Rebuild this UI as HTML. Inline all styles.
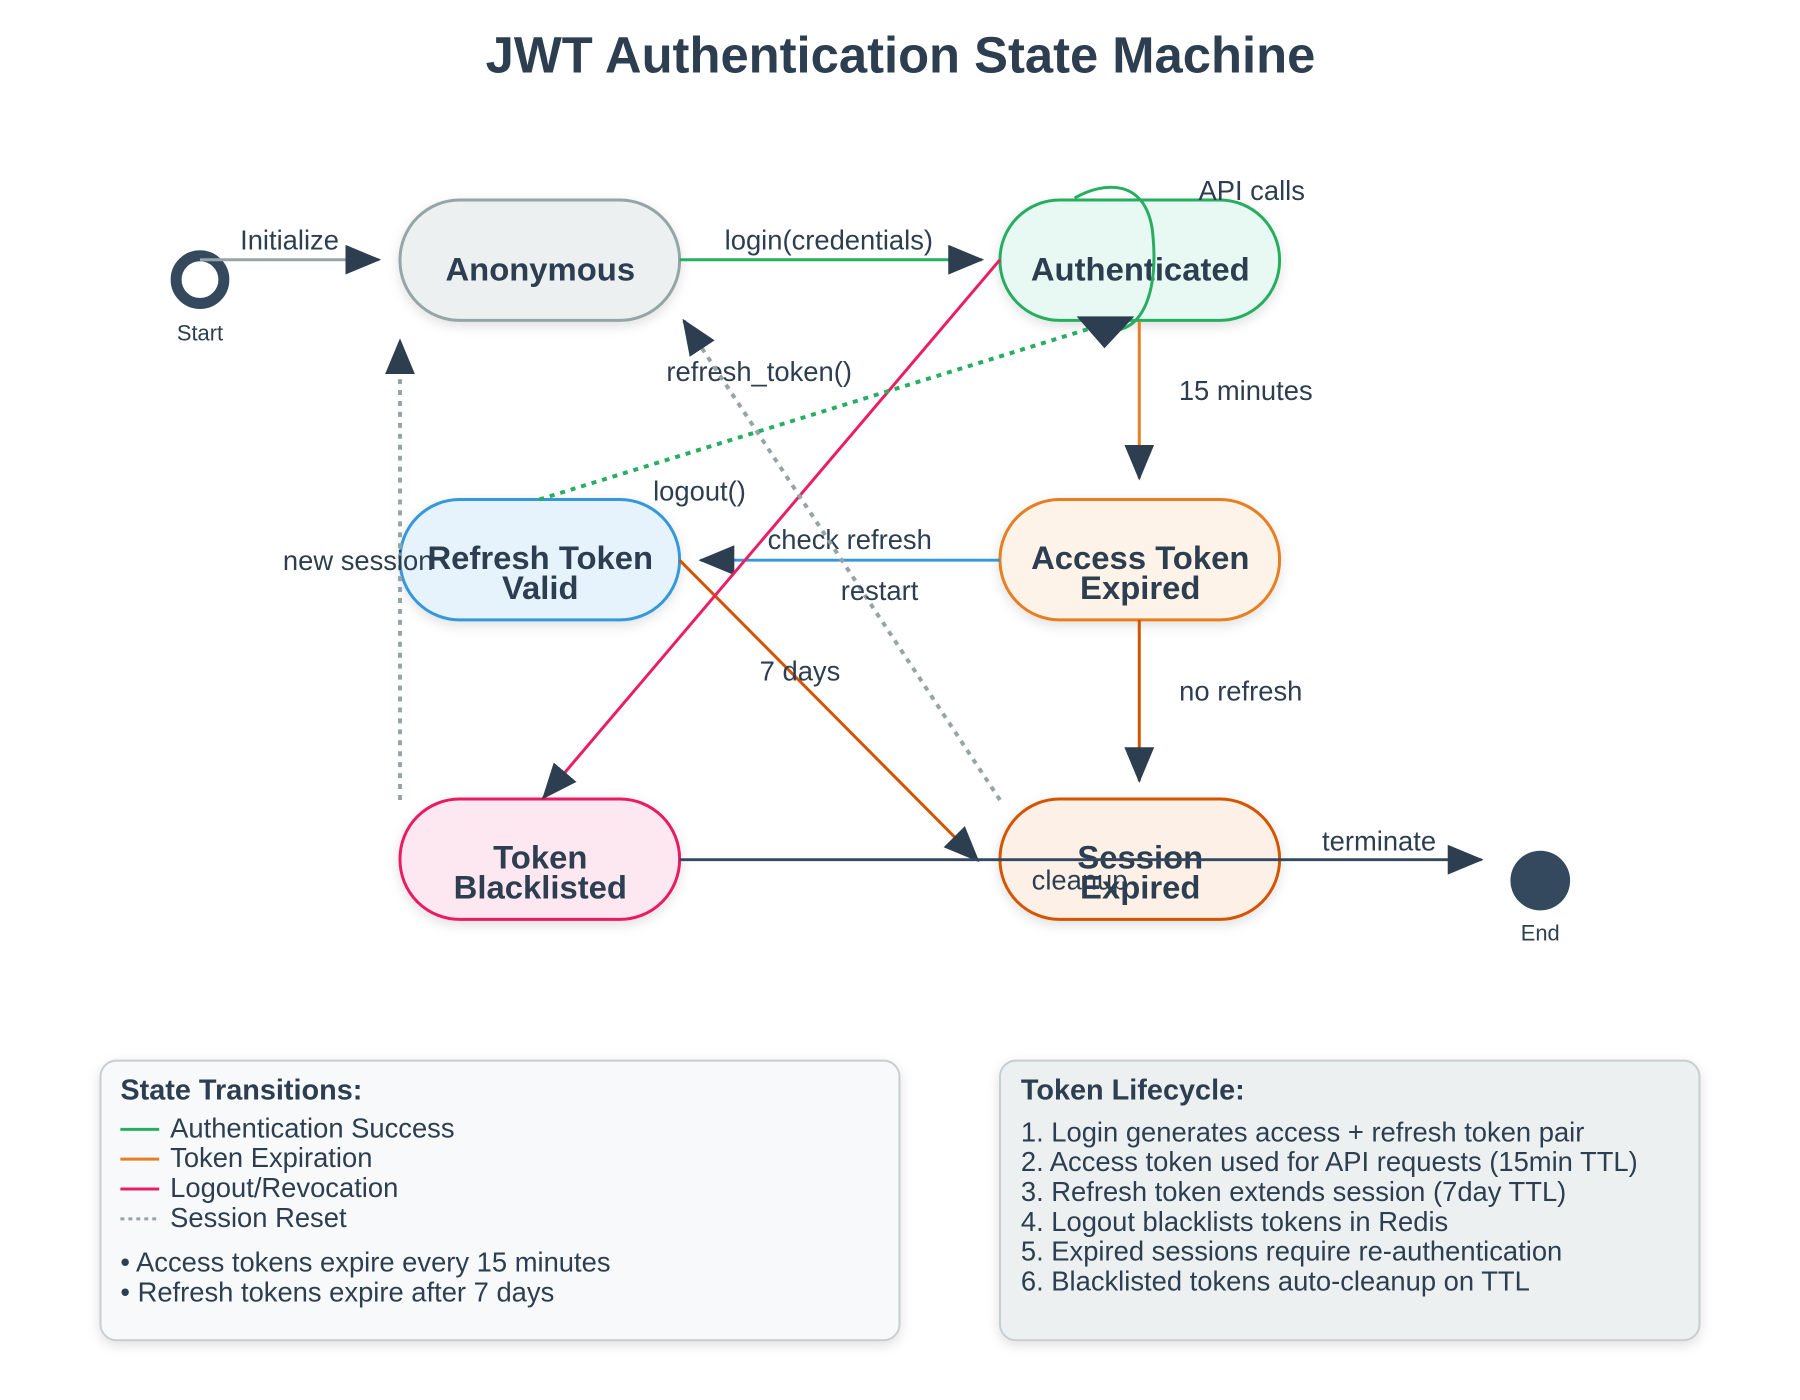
<!DOCTYPE html>
<html><head><meta charset="utf-8"><style>
html,body{margin:0;padding:0;background:#fff;}
svg{display:block;font-family:"Liberation Sans",sans-serif;}
.n{font-weight:bold;font-size:33px;fill:#2c3e50;text-anchor:middle;}
.l{font-size:27.5px;fill:#2c3e50;text-anchor:middle;}
.t{font-size:27.5px;fill:#2c3e50;}
.h{font-size:29px;font-weight:bold;fill:#2c3e50;}
</style></head><body>
<svg width="1800" height="1400" viewBox="0 0 1800 1400">
<defs>
<marker id="a" markerWidth="36" markerHeight="30" refX="34" refY="15" orient="auto" markerUnits="userSpaceOnUse">
<path d="M0,0 L36,15 L0,30 Z" fill="#2c3e50"/></marker>
<filter id="s" x="-20%" y="-20%" width="140%" height="150%"><feDropShadow dx="0" dy="4" stdDeviation="6" flood-opacity="0.12"/></filter>
</defs>
<g transform="scale(0.995)">
<text x="905" y="73" style="font-size:51px;font-weight:bold;fill:#2c3e50;text-anchor:middle">JWT Authentication State Machine</text>

<rect x="402" y="201" width="281" height="121" rx="60" fill="#ecf0f1" stroke="#95a5a6" stroke-width="3" filter="url(#s)"/>
<rect x="1005" y="201" width="281" height="121" rx="60" fill="#e8f8f3" stroke="#27ae60" stroke-width="3" filter="url(#s)"/>
<rect x="402" y="502" width="281" height="121" rx="60" fill="#e6f3fc" stroke="#3498db" stroke-width="3" filter="url(#s)"/>
<rect x="1005" y="502" width="281" height="121" rx="60" fill="#fef3e8" stroke="#e67e22" stroke-width="3" filter="url(#s)"/>
<rect x="402" y="803" width="281" height="121" rx="60" fill="#fde8f1" stroke="#e91e63" stroke-width="3" filter="url(#s)"/>
<rect x="1005" y="803" width="281" height="121" rx="60" fill="#fdf0e6" stroke="#d35400" stroke-width="3" filter="url(#s)"/>

<text class="n" x="543" y="282">Anonymous</text>
<text class="n" x="1146" y="282">Authenticated</text>
<text class="n" x="543" y="572">Refresh Token</text>
<text class="n" x="543" y="602">Valid</text>
<text class="n" x="1146" y="572">Access Token</text>
<text class="n" x="1146" y="602">Expired</text>
<text class="n" x="543" y="873">Token</text>
<text class="n" x="543" y="903">Blacklisted</text>
<text class="n" x="1146" y="873">Session</text>
<text class="n" x="1146" y="903">Expired</text>

<circle cx="201" cy="281" r="24" fill="none" stroke="#34495e" stroke-width="11"/>
<text x="201" y="342" style="font-size:22px;fill:#2c3e50;text-anchor:middle">Start</text>
<circle cx="1548" cy="885" r="30" fill="#34495e"/>
<text x="1548" y="945" style="font-size:22px;fill:#2c3e50;text-anchor:middle">End</text>

<line x1="201" y1="261" x2="381" y2="261" stroke="#95a5a6" stroke-width="3" marker-end="url(#a)"/>
<text class="l" x="291" y="251">Initialize</text>
<line x1="683" y1="261" x2="987" y2="261" stroke="#27ae60" stroke-width="3" marker-end="url(#a)"/>
<text class="l" x="833" y="251">login(credentials)</text>
<path d="M1080,199 C1110,182 1150,180 1158,230 C1165,290 1150,330 1120,332" fill="none" stroke="#27ae60" stroke-width="3"/>
<text class="l" x="1258" y="201">API calls</text>
<line x1="1145" y1="323" x2="1145" y2="481" stroke="#e67e22" stroke-width="3" marker-end="url(#a)"/>
<text class="l" x="1252" y="402">15 minutes</text>
<line x1="1005" y1="563" x2="704" y2="563" stroke="#3498db" stroke-width="3" marker-end="url(#a)"/>
<text class="l" x="854" y="552">check refresh</text>
<line x1="1145" y1="623" x2="1145" y2="785" stroke="#d35400" stroke-width="3" marker-end="url(#a)"/>
<text class="l" x="1247" y="704">no refresh</text>
<line x1="683" y1="563" x2="983" y2="865" stroke="#d35400" stroke-width="3" marker-end="url(#a)"/>
<text class="l" x="804" y="684">7 days</text>
<line x1="1005" y1="261" x2="546" y2="802" stroke="#e91e63" stroke-width="3" marker-end="url(#a)"/>
<text class="l" x="703" y="503">logout()</text>
<line x1="542" y1="502" x2="1112" y2="325" stroke="#27ae60" stroke-width="4" stroke-dasharray="5,6"/>
<path d="M1082,318 L1140,318 L1110,350 Z" fill="#2c3e50"/>
<text class="l" x="763" y="383">refresh_token()</text>
<line x1="1005" y1="804" x2="687" y2="322" stroke="#95a5a6" stroke-width="4" stroke-dasharray="5,6" marker-end="url(#a)"/>
<text class="l" x="884" y="603">restart</text>
<line x1="402" y1="804" x2="402" y2="342" stroke="#95a5a6" stroke-width="4" stroke-dasharray="5,6" marker-end="url(#a)"/>
<text class="l" x="360" y="573">new session</text>
<line x1="683" y1="864" x2="1489" y2="864" stroke="#34495e" stroke-width="3" marker-end="url(#a)"/>
<text class="l" x="1386" y="855">terminate</text>
<text class="l" x="1085" y="894">cleanup</text>

<rect x="101" y="1066" width="803" height="281" rx="16" fill="#f8f9fa" stroke="#c8cdd0" stroke-width="2" filter="url(#s)"/>
<text class="h" x="121" y="1105">State Transitions:</text>
<line x1="121" y1="1135" x2="160" y2="1135" stroke="#27ae60" stroke-width="3"/>
<text class="t" x="171" y="1143">Authentication Success</text>
<line x1="121" y1="1165" x2="160" y2="1165" stroke="#e67e22" stroke-width="3"/>
<text class="t" x="171" y="1173">Token Expiration</text>
<line x1="121" y1="1195" x2="160" y2="1195" stroke="#e91e63" stroke-width="3"/>
<text class="t" x="171" y="1203">Logout/Revocation</text>
<line x1="121" y1="1225" x2="160" y2="1225" stroke="#95a5a6" stroke-width="3" stroke-dasharray="4,4"/>
<text class="t" x="171" y="1233">Session Reset</text>
<text class="t" x="121" y="1278">• Access tokens expire every 15 minutes</text>
<text class="t" x="121" y="1308">• Refresh tokens expire after 7 days</text>

<rect x="1005" y="1066" width="703" height="281" rx="16" fill="#ecf0f1" stroke="#c8cdd0" stroke-width="2" filter="url(#s)"/>
<text class="h" x="1026" y="1105">Token Lifecycle:</text>
<text class="t" x="1026" y="1147">1. Login generates access + refresh token pair</text>
<text class="t" x="1026" y="1177">2. Access token used for API requests (15min TTL)</text>
<text class="t" x="1026" y="1207">3. Refresh token extends session (7day TTL)</text>
<text class="t" x="1026" y="1237">4. Logout blacklists tokens in Redis</text>
<text class="t" x="1026" y="1267">5. Expired sessions require re-authentication</text>
<text class="t" x="1026" y="1297">6. Blacklisted tokens auto-cleanup on TTL</text>
</g>
</svg>
</body></html>
